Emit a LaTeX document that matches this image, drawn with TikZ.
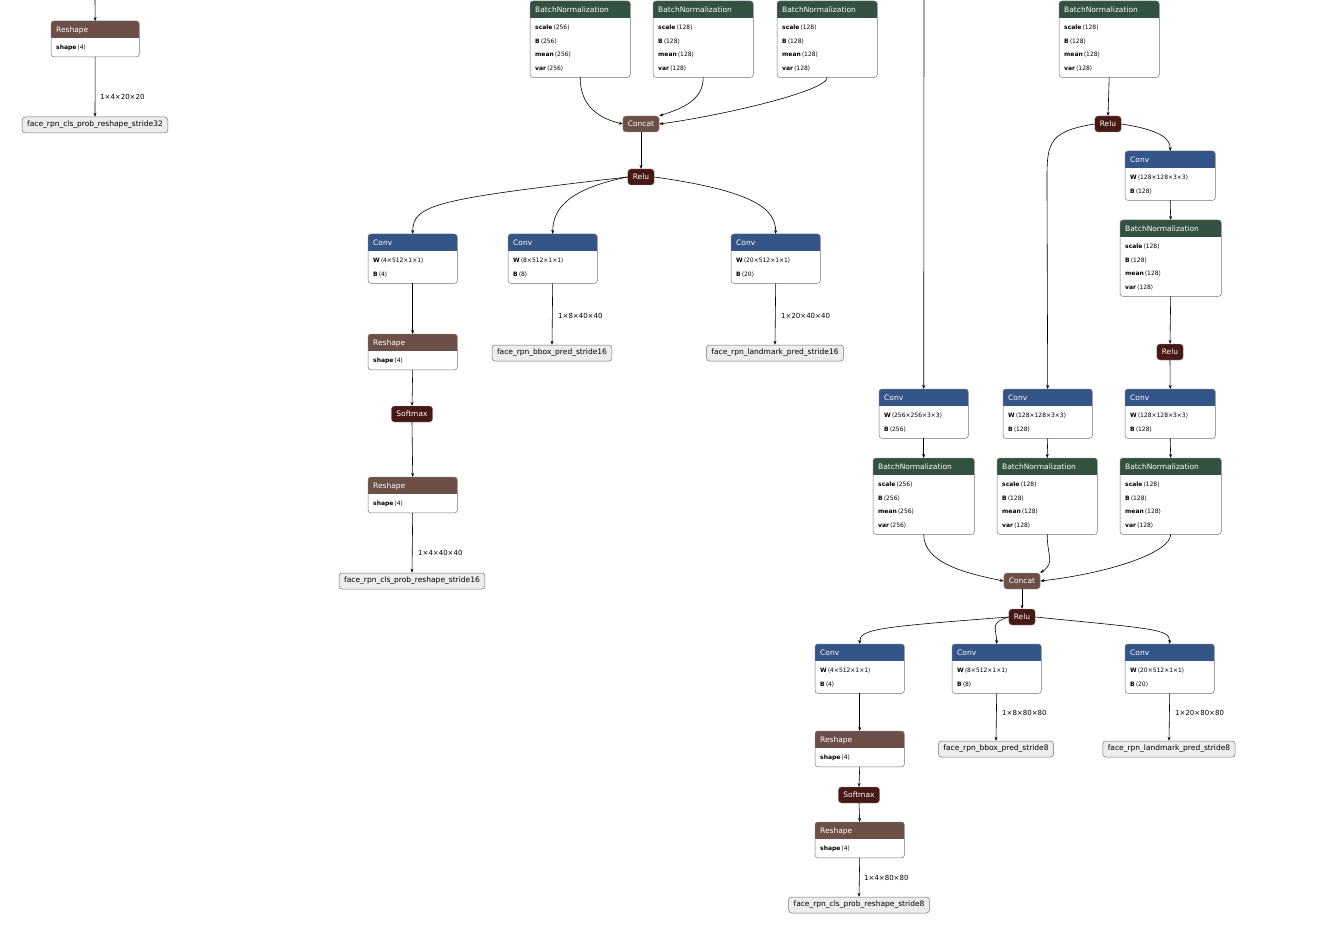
\documentclass[tikz,border=0pt]{standalone}
\usepackage{fontspec}
\setmainfont{DejaVu Sans}
\usetikzlibrary{arrows.meta}
\definecolor{convc}{RGB}{51,85,136}
\definecolor{bnc}{RGB}{51,81,64}
\definecolor{brc}{RGB}{108,79,71}
\definecolor{dkc}{RGB}{72,24,20}
\tikzset{
 edge/.style={draw=black, line width=0.6pt, -{Stealth[length=4pt,width=3pt]}},
 pill/.style={rounded corners=3pt, text=white, font=\fontsize{7.5}{9}\selectfont, minimum height=16pt, inner xsep=5pt, inner ysep=0pt, draw=white!60!black, line width=0.3pt},
 outn/.style={rounded corners=3pt, fill=black!7, draw=black!55, font=\fontsize{7.5}{9}\selectfont, minimum height=16pt, inner xsep=5pt, inner ysep=0pt, line width=0.5pt},
 elab/.style={anchor=west, font=\fontsize{7}{8}\selectfont, inner sep=0pt}
}
% #1 name #2 x #3 y #4 w #5 nlines #6 color #7 title #8 body
\newcommand\opbox[8]{%
 \pgfmathsetmacro\hh{17+#5*13.5+5}%
 \node[rounded corners=3pt, fill=white, minimum width=#4pt, minimum height=\hh pt, anchor=north west, inner sep=0pt] (#1) at (#2,#3) {};
 \begin{scope}
 \clip[rounded corners=3pt] (#1.north west) rectangle (#1.south east);
 \fill[#6] (#2,#3) rectangle (#2+#4,#3+17);
 \end{scope}
 \draw[rounded corners=3pt, draw=black!55, line width=0.5pt] (#1.north west) rectangle (#1.south east);
 \node[anchor=west, text=white, font=\fontsize{7.5}{9}\selectfont, inner sep=0pt] (#1t) at (#2+5,#3+9) {#7};
 \node[anchor=north west, align=left, font=\fontsize{6}{13.5}\selectfont, inner sep=0pt] (#1b) at (#2+5,#3+24) {#8};
}
\newcommand\kv[2]{\textbf{#1}\,⟨#2⟩}
\begin{document}
\begin{tikzpicture}[x=1pt,y=-1pt]
\useasboundingbox (0,0) rectangle (1334,936);
% ---------- left top
\opbox{rsA}{51}{21}{88}{1}{brc}{Reshape}{\kv{shape}{4}}
\coordinate (topA) at (95,0);
\draw[edge] (topA) -- (rsA.north);
\node[outn] (o32) at (95,125) {face\_rpn\_cls\_prob\_reshape\_stride32};
\draw[edge] (rsA.south) -- (o32.north);
\node[elab] at (100,97) {1×4×20×20};
% ---------- middle
\opbox{bn1}{530}{1}{100}{4}{bnc}{BatchNormalization}{\kv{scale}{256}\\\kv{B}{256}\\\kv{mean}{256}\\\kv{var}{256}}
\opbox{bn2}{653}{1}{100}{4}{bnc}{BatchNormalization}{\kv{scale}{128}\\\kv{B}{128}\\\kv{mean}{128}\\\kv{var}{128}}
\opbox{bn3}{777}{1}{100}{4}{bnc}{BatchNormalization}{\kv{scale}{128}\\\kv{B}{128}\\\kv{mean}{128}\\\kv{var}{128}}
\node[pill, fill=brc] (cc1) at (641,124) {Concat};
\node[pill, fill=dkc] (re1) at (641,177) {Relu};
\draw[edge] (bn1.south) .. controls +(0,28) and +(-25,-6) .. (cc1.west);
\draw[edge] (bn2.south) .. controls +(0,22) and +(25,-8) .. (cc1.north east);
\draw[edge] (bn3.south) .. controls +(0,14) and +(60,-8) .. (cc1.east);
\draw[edge] (cc1) -- (re1);
\opbox{cv1}{368}{234}{89}{2}{convc}{Conv}{\kv{W}{4×512×1×1}\\\kv{B}{4}}
\opbox{cv2}{508}{234}{89}{2}{convc}{Conv}{\kv{W}{8×512×1×1}\\\kv{B}{8}}
\opbox{cv3}{731}{234}{89}{2}{convc}{Conv}{\kv{W}{20×512×1×1}\\\kv{B}{20}}
\draw[edge] (re1.west) .. controls +(-190,22) and +(0,-30) .. (cv1.north);
\draw[edge] (re1.west) .. controls +(-60,12) and +(0,-25) .. (cv2.north);
\draw[edge] (re1.east) .. controls +(100,14) and +(0,-25) .. (cv3.north);
\opbox{rs1}{368}{334}{89}{1}{brc}{Reshape}{\kv{shape}{4}}
\node[pill, fill=dkc] (sm1) at (412,414) {Softmax};
\opbox{rs2}{368}{477}{89}{1}{brc}{Reshape}{\kv{shape}{4}}
\node[outn] (o16a) at (412,581) {face\_rpn\_cls\_prob\_reshape\_stride16};
\draw[edge] (cv1.south) -- (rs1.north);
\draw[edge] (rs1.south) -- (sm1.north);
\draw[edge] (sm1.south) -- (rs2.north);
\draw[edge] (rs2.south) -- (o16a.north);
\node[elab] at (418,553) {1×4×40×40};
\node[outn] (o16b) at (552,353) {face\_rpn\_bbox\_pred\_stride16};
\draw[edge] (cv2.south) -- (o16b.north);
\node[elab] at (558,316) {1×8×40×40};
\node[outn] (o16c) at (775,353) {face\_rpn\_landmark\_pred\_stride16};
\draw[edge] (cv3.south) -- (o16c.north);
\node[elab] at (781,316) {1×20×40×40};
% ---------- right
\opbox{bn4}{1059}{1}{100}{4}{bnc}{BatchNormalization}{\kv{scale}{128}\\\kv{B}{128}\\\kv{mean}{128}\\\kv{var}{128}}
\node[pill, fill=dkc] (re2) at (1108,124) {Relu};
\draw[edge] (bn4.south) -- (re2.north);
\opbox{cv4}{1125}{151}{90}{2}{convc}{Conv}{\kv{W}{128×128×3×3}\\\kv{B}{128}}
\draw[edge] (re2.east) .. controls +(40,6) and +(0,-12) .. (cv4.north);
\opbox{bn5}{1120}{220}{101}{4}{bnc}{BatchNormalization}{\kv{scale}{128}\\\kv{B}{128}\\\kv{mean}{128}\\\kv{var}{128}}
\draw[edge] (cv4.south) -- (bn5.north);
\node[pill, fill=dkc] (re3) at (1170,352) {Relu};
\draw[edge] (bn5.south) -- (re3.north);
\opbox{cvL}{879}{389}{89}{2}{convc}{Conv}{\kv{W}{256×256×3×3}\\\kv{B}{256}}
\opbox{cvM}{1003}{389}{89}{2}{convc}{Conv}{\kv{W}{128×128×3×3}\\\kv{B}{128}}
\opbox{cvR}{1125}{389}{90}{2}{convc}{Conv}{\kv{W}{128×128×3×3}\\\kv{B}{128}}
\coordinate (topB) at (924,0);
\draw[edge] (topB) -- (cvL.north);
\coordinate (bendM) at (1047,190);
\draw[edge] (re2.west) .. controls +(-50,8) and +(0,-45) .. (bendM) -- (cvM.north);
\draw[edge] (re3.south) -- (cvR.north);
\opbox{bnL}{873}{458}{101}{4}{bnc}{BatchNormalization}{\kv{scale}{256}\\\kv{B}{256}\\\kv{mean}{256}\\\kv{var}{256}}
\opbox{bnM}{997}{458}{100}{4}{bnc}{BatchNormalization}{\kv{scale}{128}\\\kv{B}{128}\\\kv{mean}{128}\\\kv{var}{128}}
\opbox{bnR}{1120}{458}{101}{4}{bnc}{BatchNormalization}{\kv{scale}{128}\\\kv{B}{128}\\\kv{mean}{128}\\\kv{var}{128}}
\draw[edge] (cvL.south) -- (bnL.north);
\draw[edge] (cvM.south) -- (bnM.north);
\draw[edge] (cvR.south) -- (bnR.north);
\node[pill, fill=brc] (cc2) at (1022,581) {Concat};
\draw[edge] (bnL.south) .. controls +(0,28) and +(-40,-8) .. (cc2.west);
\draw[edge] (bnM.south) .. controls +(0,22) and +(15,-10) .. (cc2.north east);
\draw[edge] (bnR.south) .. controls +(0,18) and +(70,-8) .. (cc2.east);
\node[pill, fill=dkc] (re4) at (1022,617) {Relu};
\draw[edge] (cc2) -- (re4);
\opbox{cv5}{815}{644}{89}{2}{convc}{Conv}{\kv{W}{4×512×1×1}\\\kv{B}{4}}
\opbox{cv6}{952}{644}{89}{2}{convc}{Conv}{\kv{W}{8×512×1×1}\\\kv{B}{8}}
\opbox{cv7}{1125}{644}{89}{2}{convc}{Conv}{\kv{W}{20×512×1×1}\\\kv{B}{20}}
\draw[edge] (re4.west) .. controls +(-130,10) and +(0,-15) .. (cv5.north);
\draw[edge] (re4.west) .. controls +(-20,6) and +(0,-15) .. (cv6.north);
\draw[edge] (re4.east) .. controls +(120,12) and +(0,-15) .. (cv7.north);
\opbox{rs3}{815}{731}{89}{1}{brc}{Reshape}{\kv{shape}{4}}
\node[pill, fill=dkc] (sm2) at (859,795) {Softmax};
\opbox{rs4}{815}{822}{89}{1}{brc}{Reshape}{\kv{shape}{4}}
\node[outn] (o8a) at (859,905) {face\_rpn\_cls\_prob\_reshape\_stride8};
\draw[edge] (cv5.south) -- (rs3.north);
\draw[edge] (rs3.south) -- (sm2.north);
\draw[edge] (sm2.south) -- (rs4.north);
\draw[edge] (rs4.south) -- (o8a.north);
\node[elab] at (864,878) {1×4×80×80};
\node[outn] (o8b) at (996,749) {face\_rpn\_bbox\_pred\_stride8};
\draw[edge] (cv6.south) -- (o8b.north);
\node[elab] at (1002,713) {1×8×80×80};
\node[outn] (o8c) at (1169,749) {face\_rpn\_landmark\_pred\_stride8};
\draw[edge] (cv7.south) -- (o8c.north);
\node[elab] at (1175,713) {1×20×80×80};
\end{tikzpicture}
\end{document}
